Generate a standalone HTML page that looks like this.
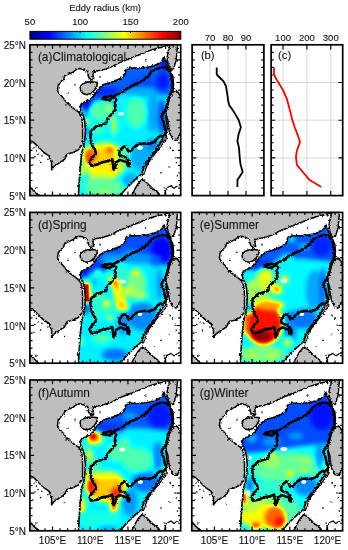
<!DOCTYPE html><html><head><meta charset="utf-8"><style>html,body{margin:0;padding:0;background:#fff;}svg{display:block;}text{font-family:"Liberation Sans",Arial,sans-serif;fill:#111;stroke:#111;stroke-width:0.1px;}</style></head><body>
<svg width="348" height="550" viewBox="0 0 348 550">
<defs>
<filter id="jet" x="-0.1" y="-0.1" width="1.2" height="1.2" color-interpolation-filters="sRGB"><feGaussianBlur stdDeviation="2.0"/><feComponentTransfer><feFuncR type="table" tableValues="0 0 0 0 0.5 1 1 1 0.5"/><feFuncG type="table" tableValues="0 0 0.5 1 1 1 0.5 0 0"/><feFuncB type="table" tableValues="0.5 1 1 1 0.5 0 0 0 0"/></feComponentTransfer></filter>
<linearGradient id="cbar" x1="0" y1="0" x2="1" y2="0"><stop offset="0" stop-color="rgb(0,0,128)"/><stop offset="0.125" stop-color="rgb(0,0,255)"/><stop offset="0.25" stop-color="rgb(0,128,255)"/><stop offset="0.375" stop-color="rgb(0,255,255)"/><stop offset="0.5" stop-color="rgb(128,255,128)"/><stop offset="0.625" stop-color="rgb(255,255,0)"/><stop offset="0.75" stop-color="rgb(255,128,0)"/><stop offset="0.875" stop-color="rgb(255,0,0)"/><stop offset="1" stop-color="rgb(128,0,0)"/></linearGradient>
<filter id="rough" filterUnits="userSpaceOnUse" x="-5" y="-5" width="161" height="161"><feTurbulence type="fractalNoise" baseFrequency="0.55" numOctaves="2" seed="3" result="t"/><feDisplacementMap in="SourceGraphic" in2="t" scale="3" xChannelSelector="R" yChannelSelector="G"/></filter>
<filter id="soft" x="-0.5" y="-0.5" width="2" height="2"><feGaussianBlur stdDeviation="0.7"/></filter>
<clipPath id="frm"><rect x="0" y="0" width="150.8" height="150.8"/></clipPath>
<clipPath id="msk"><polygon points="50,62 51.8,58.5 56.9,56.4 60.1,54.8 63.8,51.2 65.6,47.8 69.9,42.6 73.8,39.8 83,37 89.9,34 94.5,30.5 96.1,25 100.9,23.3 109,23.3 117,22.5 121.8,21.7 128.3,19.3 132.3,16.1 133.9,12.1 135.5,16.5 139.5,25 142.8,31.4 143.6,39.4 142.8,47.5 139.5,52.3 137.1,60.4 135.5,68 136.5,75 137.5,83 136.2,88.5 134.7,89.3 130.7,97.4 126.7,105.4 120.2,113.5 113.8,123.1 111.4,129.6 105.8,134.4 99.3,140.8 96.1,144 90,150.8 48.5,150.8 50.1,125 51.8,107.7 54,101 55,93 55.5,85 54.6,75.5 53.4,70.9 51.1,66.3"/></clipPath>
<g id="base">
<rect x="0" y="0" width="150.8" height="150.8" fill="#fff"/>
</g>
<g id="over" filter="url(#rough)">
<polygon points="-6,-6 139.5,-6 139.5,0 136.3,1.6 128.3,3.2 120.2,5.6 112.2,8.9 104.1,12.1 96.1,15.3 87.5,18.8 82.8,21.6 78.3,23.3 71.3,25.4 65.5,26.3 62.7,27.9 63.2,30.7 63.8,34.2 61,35.3 59.2,33 58.1,30.7 58.6,28.4 57.5,26.7 56,26 53.4,24.7 49.9,23.8 47.3,24.2 43,27.3 38.7,29.4 35,30.6 33.9,34.1 30.4,37.5 28.1,41 27.6,45.6 29.3,49 32.7,52.5 36.2,57.1 39.6,60.5 44.2,64 48.8,67.4 51.1,70.9 52.3,75.5 52.7,83.5 52.7,93.9 51.8,100.8 48.4,105.1 43.2,107.7 37.2,109.4 34.6,114.6 29.4,118 24.2,121.5 21.7,124.9 21.7,118 19.1,111.1 13.9,107.7 10.4,104.2 7,100.8 3.5,97.3 0,95.6 -6,95.6" fill="#bebebe" stroke="#000" stroke-width="1.5" stroke-linejoin="round"/>
<polygon points="-6,140 0,142.2 7.2,149.4 8.6,150.8 8.6,156.8 -6,156.8" fill="#bebebe" stroke="#000" stroke-width="1.5" stroke-linejoin="round"/>
<polygon points="50.2,42 52.9,39 58,37.3 62,37 67.5,37.8 67,41 64.5,45.5 61,48.5 57,50 53.4,49 50.6,45.7" fill="#bebebe" stroke="#000" stroke-width="1.5" stroke-linejoin="round"/>
<polygon points="140.2,-6 147.8,-6 147.8,0 147.2,4.6 146.3,15.5 143.6,23.7 140.8,24.6 138.1,19.1 137.2,11.8 139,4.6 140,0" fill="#bebebe" stroke="#000" stroke-width="1.5" stroke-linejoin="round"/>
<polygon points="142.8,47.5 146,45.5 148.5,48 150.8,52 157,52 157,88 150.8,88 149,92 146,95.8 142.8,94.2 139.5,87.7 137.9,74.9 135.5,68 136.3,66.8 137.9,60.4 139.5,53.9" fill="#bebebe" stroke="#000" stroke-width="1.5" stroke-linejoin="round"/>
<polygon points="101.8,156.8 101.8,150.8 104.6,145.1 108,139 112,134.6 116,137 122.5,143.6 128.5,148.1 130,150.8 130,156.8" fill="#bebebe" stroke="#000" stroke-width="1.5" stroke-linejoin="round"/>
<polygon points="136.3,91.6 137.6,93.2 126.5,107 118,118.5 113.6,130.5 111.8,129.6 115.5,118 124.8,106" fill="#bebebe" stroke="#000" stroke-width="1.2" stroke-linejoin="round"/>
<polyline points="134.5,150.8 135.5,146 138,142.5 141,141 144,143.5 147,141.5 150.8,139.5" fill="none" stroke="#000" stroke-width="1.2" stroke-linejoin="round"/>
<polygon points="50,62 51.8,58.5 56.9,56.4 60.1,54.8 63.8,51.2 65.6,47.8 69.9,42.6 73.8,39.8 83,37 89.9,34 94.5,30.5 96.1,25 100.9,23.3 109,23.3 117,22.5 121.8,21.7 128.3,19.3 132.3,16.1 133.9,12.1 135.5,16.5 139.5,25 142.8,31.4 143.6,39.4 142.8,47.5 139.5,52.3 137.1,60.4 135.5,68 136.5,75 137.5,83 136.2,88.5 134.7,89.3 130.7,97.4 126.7,105.4 120.2,113.5 113.8,123.1 111.4,129.6 105.8,134.4 99.3,140.8 96.1,144 90,150.8 48.5,150.8 50.1,125 51.8,107.7 54,101 55,93 55.5,85 54.6,75.5 53.4,70.9 51.1,66.3" fill="none" stroke="#000" stroke-width="1.6" stroke-linejoin="round"/>
<rect x="3.4" y="102.3" width="1.3" height="1.4" fill="#000"/>
<rect x="5.9" y="105.3" width="1.3" height="1.4" fill="#000"/>
<rect x="7.4" y="108.8" width="1.3" height="1.4" fill="#000"/>
<rect x="4.4" y="111.3" width="1.3" height="1.4" fill="#000"/>
<rect x="10.0" y="116.9" width="1.3" height="1.4" fill="#000"/>
<rect x="11.4" y="110.3" width="1.3" height="1.4" fill="#000"/>
<rect x="17.4" y="113.9" width="1.3" height="1.4" fill="#000"/>
<rect x="33.9" y="122.2" width="1.3" height="1.4" fill="#000"/>
<rect x="5.4" y="142.3" width="1.3" height="1.4" fill="#000"/>
<rect x="2.4" y="119.3" width="1.3" height="1.4" fill="#000"/>
<rect x="139.7" y="102.6" width="1.3" height="1.4" fill="#000"/>
<rect x="142.1" y="105.0" width="1.3" height="1.4" fill="#000"/>
<rect x="144.5" y="112.2" width="1.3" height="1.4" fill="#000"/>
<rect x="145.7" y="117.1" width="1.3" height="1.4" fill="#000"/>
<rect x="124.0" y="134.0" width="1.3" height="1.4" fill="#000"/>
<rect x="133.6" y="142.4" width="1.3" height="1.4" fill="#000"/>
<rect x="146.9" y="130.3" width="1.3" height="1.4" fill="#000"/>
<rect x="138.4" y="121.3" width="1.3" height="1.4" fill="#000"/>
<rect x="130.4" y="127.3" width="1.3" height="1.4" fill="#000"/>
<rect x="37.4" y="47.3" width="1.3" height="1.4" fill="#000"/>
<rect x="35.4" y="59.3" width="1.3" height="1.4" fill="#000"/>
<rect x="44.4" y="39.3" width="1.3" height="1.4" fill="#000"/>
<rect x="69.4" y="31.3" width="1.3" height="1.4" fill="#000"/>
<rect x="99.4" y="21.3" width="1.3" height="1.4" fill="#000"/>
<rect x="115.4" y="15.3" width="1.3" height="1.4" fill="#000"/>
<polyline points="71,53.5 75,53 79.5,51.3 83,51.9 87.6,49.6 92.2,47.3 96.1,44.3 101.9,41.2 104.1,40.2 112.2,36.2 118.6,31.4 121,27.4 125.1,25 131.5,22.5 136.3,23.3 140.4,27.4 142,33 142.8,41 142,45.9 139.5,50.7 137.9,57.1 136.3,63.6 133.9,66.8 131.6,71.8 133.8,77.6 135.2,84.7 135.9,89.8 133.8,90.5 130.2,91.2 127.3,93.4 125.9,96.2 123,97.7 118.7,99.1 114.4,98.4 111.5,99.1 108.6,99.1 106,101 104,102.7 101.4,105.6 98.5,107 97.1,104.1 95.7,102 92.8,102.7 89.9,105.6 89.2,109.9 91.4,111.3 95.7,112.8 98.5,115.6 100,120 99.4,121.8 98,121 97.6,117.6 94.2,116.4 90.3,115.2 86.3,117.4 85.3,122.4 83.6,124.6 83,119.4 82.3,114.6 78.3,116.2 72.2,117.4 66.5,119.8 61.2,120.8 59.4,117.4 62.2,112.8 66.2,108.8 65.2,105.3 62.6,101.3 61.2,97 60.5,91.2 61,86 65.9,81.9 71,80.1 76.2,78.4 77.9,73.2 81.4,69.8 85.7,64.6 84.8,61.2 85.9,60.5 84.7,58.2 86.4,54.7 84.1,53.6 78.4,55.3 75,54.7 71,53.5" fill="none" stroke="#000" stroke-width="2.6" stroke-linejoin="round"/>
</g>
<path id="mticks" d="M7.54 0v2.6M7.54 150.8v-2.6M15.08 0v2.6M15.08 150.8v-2.6M22.62 0v4.2M22.62 150.8v-4.2M30.16 0v2.6M30.16 150.8v-2.6M37.70 0v2.6M37.70 150.8v-2.6M45.24 0v2.6M45.24 150.8v-2.6M52.78 0v2.6M52.78 150.8v-2.6M60.32 0v4.2M60.32 150.8v-4.2M67.86 0v2.6M67.86 150.8v-2.6M75.40 0v2.6M75.40 150.8v-2.6M82.94 0v2.6M82.94 150.8v-2.6M90.48 0v2.6M90.48 150.8v-2.6M98.02 0v4.2M98.02 150.8v-4.2M105.56 0v2.6M105.56 150.8v-2.6M113.10 0v2.6M113.10 150.8v-2.6M120.64 0v2.6M120.64 150.8v-2.6M128.18 0v2.6M128.18 150.8v-2.6M135.72 0v4.2M135.72 150.8v-4.2M143.26 0v2.6M143.26 150.8v-2.6M0 143.26h2.6M150.8 143.26h-2.6M0 135.72h2.6M150.8 135.72h-2.6M0 128.18h2.6M150.8 128.18h-2.6M0 120.64h2.6M150.8 120.64h-2.6M0 113.10h4.2M150.8 113.10h-4.2M0 105.56h2.6M150.8 105.56h-2.6M0 98.02h2.6M150.8 98.02h-2.6M0 90.48h2.6M150.8 90.48h-2.6M0 82.94h2.6M150.8 82.94h-2.6M0 75.40h4.2M150.8 75.40h-4.2M0 67.86h2.6M150.8 67.86h-2.6M0 60.32h2.6M150.8 60.32h-2.6M0 52.78h2.6M150.8 52.78h-2.6M0 45.24h2.6M150.8 45.24h-2.6M0 37.70h4.2M150.8 37.70h-4.2M0 30.16h2.6M150.8 30.16h-2.6M0 22.62h2.6M150.8 22.62h-2.6M0 15.08h2.6M150.8 15.08h-2.6M0 7.54h2.6M150.8 7.54h-2.6" stroke="#000" stroke-width="1.2" fill="none"/>
</defs>
<text x="105.1" y="11.4" font-size="9.5" text-anchor="middle">Eddy radius (km)</text>
<text x="29.9" y="24.8" font-size="9.5" text-anchor="middle">50</text>
<text x="80.2" y="24.8" font-size="9.5" text-anchor="middle">100</text>
<text x="130.5" y="24.8" font-size="9.5" text-anchor="middle">150</text>
<text x="180.8" y="24.8" font-size="9.5" text-anchor="middle">200</text>
<rect x="29.9" y="31.4" width="150.9" height="7.8" fill="url(#cbar)" stroke="#000" stroke-width="1"/>
<path d="M80.2 31.4v1.6M130.5 31.4v1.6" stroke="#000" stroke-width="1.1"/>
<g transform="translate(29.9,44.8)">
<g clip-path="url(#frm)">
<use href="#base"/>
<g clip-path="url(#msk)"><g filter="url(#jet)">
<rect x="-10" y="-10" width="170.8" height="170.8" fill="rgb(92,92,92)"/>
<polygon points="40,0 150,0 150,52 128,50 118,48 100,46 90,50 70,56 40,64" fill="rgb(56,56,56)"/>
<ellipse cx="115" cy="40" rx="16" ry="8" fill="rgb(51,51,51)"/>
<ellipse cx="76" cy="47" rx="20" ry="4" fill="rgb(41,41,41)"/>
<ellipse cx="58" cy="61" rx="6" ry="6" fill="rgb(33,33,33)"/>
<ellipse cx="133" cy="36" rx="6" ry="9" fill="rgb(38,38,38)"/>
<ellipse cx="134" cy="18" rx="4" ry="7" fill="rgb(36,36,36)"/>
<ellipse cx="132" cy="72" rx="4" ry="18" fill="rgb(51,51,51)"/>
<ellipse cx="123" cy="68" rx="6" ry="20" fill="rgb(74,74,74)"/>
<ellipse cx="112" cy="47" rx="16" ry="5" fill="rgb(76,76,76)"/>
<ellipse cx="71" cy="66" rx="12" ry="10" fill="rgb(117,117,117)"/>
<ellipse cx="106" cy="68" rx="11" ry="15" fill="rgb(115,115,115)"/>
<ellipse cx="84" cy="80" rx="3" ry="11" fill="rgb(140,140,140)"/>
<ellipse cx="80" cy="63" rx="2" ry="2" fill="rgb(184,184,184)"/>
<ellipse cx="92" cy="66" rx="5" ry="20" fill="rgb(94,94,94)"/>
<ellipse cx="56" cy="80" rx="3" ry="12" fill="rgb(64,64,64)"/>
<ellipse cx="57" cy="77" rx="1.5" ry="3.5" fill="rgb(217,217,217)"/>
<ellipse cx="68" cy="84" rx="8" ry="6" fill="rgb(110,110,110)"/>
<ellipse cx="75" cy="116" rx="22" ry="19" fill="rgb(148,148,148)"/>
<ellipse cx="74" cy="110" rx="12" ry="8" fill="rgb(171,171,171)"/>
<ellipse cx="60" cy="111" rx="7" ry="9" fill="rgb(196,196,196)"/>
<ellipse cx="60" cy="114" rx="3" ry="4" fill="rgb(212,212,212)"/>
<ellipse cx="80" cy="105" rx="3.5" ry="3.5" fill="rgb(204,204,204)"/>
<ellipse cx="83" cy="118" rx="2.5" ry="5" fill="rgb(186,186,186)"/>
<ellipse cx="74" cy="126" rx="13" ry="9" fill="rgb(163,163,163)"/>
<ellipse cx="70" cy="133" rx="12" ry="4" fill="rgb(140,140,140)"/>
<ellipse cx="53" cy="126" rx="4" ry="6" fill="rgb(140,140,140)"/>
<ellipse cx="94" cy="110" rx="6" ry="9" fill="rgb(115,115,115)"/>
<ellipse cx="72" cy="143" rx="26" ry="9" fill="rgb(120,120,120)"/>
<ellipse cx="53" cy="145" rx="4" ry="6" fill="rgb(97,97,97)"/>
<ellipse cx="76" cy="147" rx="5" ry="2" fill="rgb(140,140,140)"/>
<ellipse cx="112" cy="112" rx="12" ry="14" fill="rgb(76,76,76)"/>
<ellipse cx="122" cy="100" rx="6" ry="6" fill="rgb(64,64,64)"/>
<ellipse cx="100" cy="136" rx="8" ry="8" fill="rgb(76,76,76)"/>
</g>
<ellipse cx="91" cy="69" rx="3" ry="1.8" fill="#fff"/>
<ellipse cx="110" cy="103" rx="3" ry="2" fill="#fff"/>
</g>
<use href="#over"/>
</g>
<use href="#mticks"/>
<rect x="0" y="0" width="150.8" height="150.8" fill="none" stroke="#000" stroke-width="1.7"/>
<text x="8" y="16.5" font-size="11.85">(a)Climatological</text>
</g>
<text x="26" y="48.80" font-size="10" text-anchor="end">25°N</text>
<text x="26" y="86.50" font-size="10" text-anchor="end">20°N</text>
<text x="26" y="124.20" font-size="10" text-anchor="end">15°N</text>
<text x="26" y="161.90" font-size="10" text-anchor="end">10°N</text>
<text x="26" y="199.60" font-size="10" text-anchor="end">5°N</text>
<g transform="translate(29.9,212.4)">
<g clip-path="url(#frm)">
<use href="#base"/>
<g clip-path="url(#msk)"><g filter="url(#jet)">
<rect x="-10" y="-10" width="170.8" height="170.8" fill="rgb(92,92,92)"/>
<polygon points="40,0 150,0 150,54 128,52 110,50 96,50 84,48 70,50 40,58" fill="rgb(51,51,51)"/>
<ellipse cx="131" cy="38" rx="10" ry="13" fill="rgb(31,31,31)"/>
<ellipse cx="100" cy="40" rx="8" ry="4" fill="rgb(66,66,66)"/>
<ellipse cx="64" cy="55" rx="14" ry="6" fill="rgb(46,46,46)"/>
<ellipse cx="54" cy="61" rx="4" ry="4" fill="rgb(31,31,31)"/>
<ellipse cx="84" cy="45" rx="14" ry="4" fill="rgb(71,71,71)"/>
<ellipse cx="68" cy="60" rx="4" ry="3" fill="rgb(120,120,120)"/>
<ellipse cx="80" cy="66" rx="5" ry="5" fill="rgb(117,117,117)"/>
<ellipse cx="63" cy="70" rx="3" ry="3" fill="rgb(69,69,69)"/>
<polygon points="52.5,70 60,70 60.5,90 53,90" fill="rgb(204,204,204)"/>
<polygon points="80.5,66 89.5,66 99,97 87.5,99" fill="rgb(173,173,173)"/>
<ellipse cx="84.5" cy="71" rx="2.5" ry="3" fill="rgb(204,204,204)"/>
<ellipse cx="92" cy="58" rx="6" ry="9" fill="rgb(105,105,105)"/>
<ellipse cx="68" cy="84" rx="8" ry="5" fill="rgb(112,112,112)"/>
<ellipse cx="93" cy="82" rx="5" ry="7" fill="rgb(145,145,145)"/>
<ellipse cx="112" cy="46" rx="18" ry="5" fill="rgb(69,69,69)"/>
<ellipse cx="126" cy="48" rx="6" ry="6" fill="rgb(56,56,56)"/>
<ellipse cx="106" cy="72" rx="10" ry="16" fill="rgb(125,125,125)"/>
<ellipse cx="106" cy="60" rx="3" ry="3" fill="rgb(168,168,168)"/>
<ellipse cx="100" cy="78" rx="5" ry="5" fill="rgb(145,145,145)"/>
<ellipse cx="112" cy="83" rx="6" ry="3" fill="rgb(145,145,145)"/>
<ellipse cx="124" cy="72" rx="6" ry="16" fill="rgb(89,89,89)"/>
<ellipse cx="130" cy="72" rx="2.5" ry="16" fill="rgb(66,66,66)"/>
<ellipse cx="56.5" cy="96" rx="2.5" ry="6" fill="rgb(46,46,46)"/>
<ellipse cx="72" cy="98" rx="12" ry="9" fill="rgb(105,105,105)"/>
<ellipse cx="77" cy="91" rx="4" ry="4" fill="rgb(153,153,153)"/>
<ellipse cx="81" cy="105.6" rx="2" ry="2" fill="rgb(194,194,194)"/>
<ellipse cx="93" cy="111" rx="5" ry="12" fill="rgb(69,69,69)"/>
<ellipse cx="72" cy="126" rx="10" ry="5" fill="rgb(115,115,115)"/>
<ellipse cx="50.3" cy="129.3" rx="2" ry="3" fill="rgb(168,168,168)"/>
<ellipse cx="112" cy="104" rx="15" ry="14" fill="rgb(66,66,66)"/>
<ellipse cx="85" cy="142" rx="13" ry="6" fill="rgb(61,61,61)"/>
</g>
<polygon points="54.5,72 58.5,72 59,89 55,89" fill="rgb(205,0,0)" filter="url(#soft)"/>
<ellipse cx="92.6" cy="69" rx="3" ry="1.8" fill="#fff"/>
<ellipse cx="110" cy="101.5" rx="2.5" ry="2" fill="#fff"/>
</g>
<use href="#over"/>
</g>
<use href="#mticks"/>
<rect x="0" y="0" width="150.8" height="150.8" fill="none" stroke="#000" stroke-width="1.7"/>
<text x="8" y="16.5" font-size="11.85">(d)Spring</text>
</g>
<text x="26" y="216.40" font-size="10" text-anchor="end">25°N</text>
<text x="26" y="254.10" font-size="10" text-anchor="end">20°N</text>
<text x="26" y="291.80" font-size="10" text-anchor="end">15°N</text>
<text x="26" y="329.50" font-size="10" text-anchor="end">10°N</text>
<text x="26" y="367.20" font-size="10" text-anchor="end">5°N</text>
<g transform="translate(191.8,212.4)">
<g clip-path="url(#frm)">
<use href="#base"/>
<g clip-path="url(#msk)"><g filter="url(#jet)">
<rect x="-10" y="-10" width="170.8" height="170.8" fill="rgb(94,94,94)"/>
<polygon points="40,0 150,0 150,50 128,48 110,46 96,46 84,48 70,54 40,60" fill="rgb(54,54,54)"/>
<ellipse cx="130" cy="34" rx="10" ry="10" fill="rgb(41,41,41)"/>
<ellipse cx="112" cy="34" rx="6" ry="4" fill="rgb(76,76,76)"/>
<ellipse cx="100" cy="27" rx="3" ry="3" fill="rgb(102,102,102)"/>
<ellipse cx="66" cy="52" rx="15" ry="6" fill="rgb(46,46,46)"/>
<ellipse cx="73" cy="68" rx="9" ry="13" fill="rgb(148,148,148)"/>
<ellipse cx="75" cy="63" rx="1.5" ry="1.5" fill="rgb(217,217,217)"/>
<ellipse cx="95" cy="55" rx="10" ry="14" fill="rgb(94,94,94)"/>
<ellipse cx="85" cy="77" rx="5" ry="5" fill="rgb(184,184,184)"/>
<ellipse cx="68" cy="88" rx="12" ry="8" fill="rgb(138,138,138)"/>
<ellipse cx="60" cy="80" rx="5" ry="14" fill="rgb(140,140,140)"/>
<ellipse cx="93" cy="67" rx="4" ry="4" fill="rgb(158,158,158)"/>
<ellipse cx="72" cy="112" rx="19" ry="20" fill="rgb(219,219,219)"/>
<ellipse cx="70" cy="124" rx="10" ry="6" fill="rgb(252,252,252)"/>
<ellipse cx="78" cy="93" rx="14" ry="5" fill="rgb(184,184,184)"/>
<ellipse cx="53" cy="110" rx="3" ry="12" fill="rgb(184,184,184)"/>
<ellipse cx="58" cy="96" rx="2" ry="5" fill="rgb(51,51,51)"/>
<ellipse cx="98" cy="116" rx="7" ry="18" fill="rgb(69,69,69)"/>
<ellipse cx="98" cy="129" rx="2" ry="2" fill="rgb(158,158,158)"/>
<ellipse cx="70" cy="142" rx="24" ry="9" fill="rgb(128,128,128)"/>
<ellipse cx="96" cy="130" rx="5" ry="5" fill="rgb(140,140,140)"/>
<ellipse cx="60" cy="142" rx="3" ry="2" fill="rgb(153,153,153)"/>
<ellipse cx="80" cy="144" rx="3" ry="2" fill="rgb(153,153,153)"/>
<ellipse cx="123" cy="78" rx="9" ry="20" fill="rgb(74,74,74)"/>
<ellipse cx="131" cy="75" rx="3" ry="20" fill="rgb(56,56,56)"/>
<ellipse cx="112" cy="106" rx="13" ry="10" fill="rgb(61,61,61)"/>
</g>
<ellipse cx="92" cy="68.5" rx="3" ry="1.8" fill="#fff"/>
<ellipse cx="110" cy="101.5" rx="2.5" ry="2" fill="#fff"/>
</g>
<use href="#over"/>
</g>
<use href="#mticks"/>
<rect x="0" y="0" width="150.8" height="150.8" fill="none" stroke="#000" stroke-width="1.7"/>
<text x="8" y="16.5" font-size="11.85">(e)Summer</text>
</g>
<g transform="translate(29.9,380.0)">
<g clip-path="url(#frm)">
<use href="#base"/>
<g clip-path="url(#msk)"><g filter="url(#jet)">
<rect x="-10" y="-10" width="170.8" height="170.8" fill="rgb(92,92,92)"/>
<polygon points="40,0 150,0 150,52 128,50 110,48 96,48 84,50 70,54 40,60" fill="rgb(54,54,54)"/>
<ellipse cx="130" cy="36" rx="12" ry="12" fill="rgb(38,38,38)"/>
<ellipse cx="100" cy="36" rx="8" ry="4" fill="rgb(71,71,71)"/>
<ellipse cx="78" cy="48" rx="18" ry="5" fill="rgb(46,46,46)"/>
<ellipse cx="65" cy="58" rx="8" ry="7" fill="rgb(168,168,168)"/>
<ellipse cx="63" cy="56" rx="4" ry="4" fill="rgb(242,242,242)"/>
<ellipse cx="56" cy="70" rx="3" ry="10" fill="rgb(115,115,115)"/>
<ellipse cx="60" cy="76" rx="2.5" ry="7" fill="rgb(163,163,163)"/>
<ellipse cx="58" cy="95" rx="2.5" ry="3" fill="rgb(217,217,217)"/>
<ellipse cx="96" cy="62" rx="2" ry="4" fill="rgb(143,143,143)"/>
<ellipse cx="90" cy="72" rx="14" ry="10" fill="rgb(115,115,115)"/>
<ellipse cx="108" cy="80" rx="16" ry="12" fill="rgb(115,115,115)"/>
<ellipse cx="64" cy="86" rx="6" ry="8" fill="rgb(115,115,115)"/>
<ellipse cx="77" cy="108" rx="21" ry="14" fill="rgb(173,173,173)"/>
<ellipse cx="76" cy="95" rx="14" ry="4" fill="rgb(153,153,153)"/>
<ellipse cx="61" cy="106" rx="5" ry="8" fill="rgb(219,219,219)"/>
<ellipse cx="87" cy="113" rx="6" ry="6" fill="rgb(214,214,214)"/>
<ellipse cx="84" cy="125" rx="4" ry="7" fill="rgb(204,204,204)"/>
<ellipse cx="52" cy="125" rx="4" ry="8" fill="rgb(158,158,158)"/>
<ellipse cx="50" cy="129" rx="2" ry="3" fill="rgb(217,217,217)"/>
<ellipse cx="70" cy="140" rx="20" ry="8" fill="rgb(102,102,102)"/>
<ellipse cx="78" cy="148" rx="10" ry="3" fill="rgb(76,76,76)"/>
<ellipse cx="100" cy="122" rx="8" ry="14" fill="rgb(71,71,71)"/>
<ellipse cx="116" cy="102" rx="14" ry="10" fill="rgb(61,61,61)"/>
<ellipse cx="128" cy="76" rx="5" ry="14" fill="rgb(66,66,66)"/>
</g>
<ellipse cx="92.3" cy="69.5" rx="3" ry="2" fill="#fff"/>
<ellipse cx="110.5" cy="102" rx="2.5" ry="2" fill="#fff"/>
</g>
<use href="#over"/>
</g>
<use href="#mticks"/>
<rect x="0" y="0" width="150.8" height="150.8" fill="none" stroke="#000" stroke-width="1.7"/>
<text x="8" y="16.5" font-size="11.85">(f)Autumn</text>
</g>
<text x="26" y="384.00" font-size="10" text-anchor="end">25°N</text>
<text x="26" y="421.70" font-size="10" text-anchor="end">20°N</text>
<text x="26" y="459.40" font-size="10" text-anchor="end">15°N</text>
<text x="26" y="497.10" font-size="10" text-anchor="end">10°N</text>
<text x="26" y="534.80" font-size="10" text-anchor="end">5°N</text>
<text x="52.52" y="544" font-size="10" text-anchor="middle">105°E</text>
<text x="90.22" y="544" font-size="10" text-anchor="middle">110°E</text>
<text x="127.92" y="544" font-size="10" text-anchor="middle">115°E</text>
<text x="165.62" y="544" font-size="10" text-anchor="middle">120°E</text>
<g transform="translate(191.8,380.0)">
<g clip-path="url(#frm)">
<use href="#base"/>
<g clip-path="url(#msk)"><g filter="url(#jet)">
<rect x="-10" y="-10" width="170.8" height="170.8" fill="rgb(97,97,97)"/>
<polygon points="40,0 150,0 150,64 128,64 110,66 96,68 84,70 70,72 40,74" fill="rgb(51,51,51)"/>
<ellipse cx="130" cy="36" rx="12" ry="14" fill="rgb(36,36,36)"/>
<ellipse cx="80" cy="62" rx="10" ry="5" fill="rgb(69,69,69)"/>
<ellipse cx="104" cy="56" rx="8" ry="4" fill="rgb(69,69,69)"/>
<ellipse cx="60" cy="58" rx="5" ry="5" fill="rgb(76,76,76)"/>
<ellipse cx="95" cy="88" rx="34" ry="16" fill="rgb(120,120,120)"/>
<ellipse cx="80" cy="82" rx="10" ry="6" fill="rgb(133,133,133)"/>
<ellipse cx="112" cy="80" rx="10" ry="6" fill="rgb(128,128,128)"/>
<ellipse cx="82" cy="74" rx="2.5" ry="2.5" fill="rgb(168,168,168)"/>
<ellipse cx="98" cy="93" rx="2.5" ry="2.5" fill="rgb(184,184,184)"/>
<ellipse cx="112" cy="90" rx="2" ry="2" fill="rgb(163,163,163)"/>
<ellipse cx="132" cy="85" rx="2" ry="2" fill="rgb(224,224,224)"/>
<ellipse cx="58" cy="105" rx="3" ry="7" fill="rgb(56,56,56)"/>
<ellipse cx="80" cy="108" rx="16" ry="8" fill="rgb(107,107,107)"/>
<ellipse cx="74" cy="122" rx="20" ry="5" fill="rgb(133,133,133)"/>
<ellipse cx="70" cy="136" rx="22" ry="12" fill="rgb(161,161,161)"/>
<ellipse cx="60" cy="128" rx="8" ry="5" fill="rgb(143,143,143)"/>
<ellipse cx="84" cy="138" rx="11" ry="12" fill="rgb(199,199,199)"/>
<ellipse cx="88" cy="142" rx="5" ry="5" fill="rgb(222,222,222)"/>
<ellipse cx="64" cy="146" rx="4" ry="3" fill="rgb(224,224,224)"/>
<ellipse cx="52" cy="118" rx="3" ry="7" fill="rgb(230,230,230)"/>
<ellipse cx="100" cy="130" rx="8" ry="10" fill="rgb(117,117,117)"/>
<ellipse cx="114" cy="106" rx="12" ry="10" fill="rgb(66,66,66)"/>
<ellipse cx="128" cy="76" rx="5" ry="14" fill="rgb(71,71,71)"/>
</g>
<ellipse cx="92" cy="69" rx="3.5" ry="2" fill="#fff"/>
<ellipse cx="57.7" cy="77.8" rx="2.5" ry="2" fill="#fff"/>
<ellipse cx="112" cy="102" rx="2.5" ry="2" fill="#fff"/>
<ellipse cx="56.5" cy="113" rx="2" ry="3" fill="#fff"/>
</g>
<use href="#over"/>
</g>
<use href="#mticks"/>
<rect x="0" y="0" width="150.8" height="150.8" fill="none" stroke="#000" stroke-width="1.7"/>
<text x="8" y="16.5" font-size="11.85">(g)Winter</text>
</g>
<text x="214.42" y="544" font-size="10" text-anchor="middle">105°E</text>
<text x="252.12" y="544" font-size="10" text-anchor="middle">110°E</text>
<text x="289.82" y="544" font-size="10" text-anchor="middle">115°E</text>
<text x="327.52" y="544" font-size="10" text-anchor="middle">120°E</text>
<g>
<path d="M210.05 44.8V195.6M228.00 44.8V195.6M245.95 44.8V195.6M192.1 82.50H263.9M192.1 120.20H263.9M192.1 157.90H263.9" stroke="#d9d9d9" stroke-width="1" fill="none"/>
<path d="M210.05 44.8v4.6M210.05 195.6v-4.6M228.00 44.8v4.6M228.00 195.6v-4.6M245.95 44.8v4.6M245.95 195.6v-4.6M192.1 188.06h2.6M263.9 188.06h-2.6M192.1 180.52h2.6M263.9 180.52h-2.6M192.1 172.98h2.6M263.9 172.98h-2.6M192.1 165.44h2.6M263.9 165.44h-2.6M192.1 157.90h4.2M263.9 157.90h-4.2M192.1 150.36h2.6M263.9 150.36h-2.6M192.1 142.82h2.6M263.9 142.82h-2.6M192.1 135.28h2.6M263.9 135.28h-2.6M192.1 127.74h2.6M263.9 127.74h-2.6M192.1 120.20h4.2M263.9 120.20h-4.2M192.1 112.66h2.6M263.9 112.66h-2.6M192.1 105.12h2.6M263.9 105.12h-2.6M192.1 97.58h2.6M263.9 97.58h-2.6M192.1 90.04h2.6M263.9 90.04h-2.6M192.1 82.50h4.2M263.9 82.50h-4.2M192.1 74.96h2.6M263.9 74.96h-2.6M192.1 67.42h2.6M263.9 67.42h-2.6M192.1 59.88h2.6M263.9 59.88h-2.6M192.1 52.34h2.6M263.9 52.34h-2.6" stroke="#000" stroke-width="1.1" fill="none"/>
<polyline points="216.7,67.6 216.7,74.5 220.2,78 223.6,81.4 225.9,86 227.1,92.9 228.2,100.9 229.4,105.5 232.8,110.1 236.3,115.9 238.6,120 240.9,127.2 238.6,134.1 237.4,141 239,147.9 239.7,157.1 240.4,164 242.7,172 239.7,176.6 237.4,180.1 237.4,187" fill="none" stroke="#000" stroke-width="1.8" stroke-linejoin="round"/>
<rect x="192.1" y="44.8" width="71.79999999999998" height="150.8" fill="none" stroke="#000" stroke-width="1.7"/>
<text x="210.05" y="40.8" font-size="9.5" text-anchor="middle">70</text>
<text x="228.00" y="40.8" font-size="9.5" text-anchor="middle">80</text>
<text x="245.95" y="40.8" font-size="9.5" text-anchor="middle">90</text>
<text x="200.9" y="59.099999999999994" font-size="11.2">(b)</text>
</g>
<g>
<path d="M283.03 44.8V195.6M306.90 44.8V195.6M330.77 44.8V195.6M271.1 82.50H342.7M271.1 120.20H342.7M271.1 157.90H342.7" stroke="#d9d9d9" stroke-width="1" fill="none"/>
<path d="M283.03 44.8v4.6M283.03 195.6v-4.6M306.90 44.8v4.6M306.90 195.6v-4.6M330.77 44.8v4.6M330.77 195.6v-4.6M271.1 188.06h2.6M271.1 180.52h2.6M271.1 172.98h2.6M271.1 165.44h2.6M271.1 157.90h4.2M342.7 157.90h-4.2M271.1 150.36h2.6M271.1 142.82h2.6M271.1 135.28h2.6M271.1 127.74h2.6M271.1 120.20h4.2M342.7 120.20h-4.2M271.1 112.66h2.6M271.1 105.12h2.6M271.1 97.58h2.6M271.1 90.04h2.6M271.1 82.50h4.2M342.7 82.50h-4.2M271.1 74.96h2.6M271.1 67.42h2.6M271.1 59.88h2.6M271.1 52.34h2.6" stroke="#000" stroke-width="1.1" fill="none"/>
<polyline points="274,67.6 274,74.5 276.3,79 279.8,84.8 283.2,90.6 286.7,98.6 289,106.7 291.3,115.9 291.7,118 294.7,127.2 298.2,136.4 300,142.1 297,150.2 295.9,157.1 297,165.1 302.8,172 309.7,180.1 321.2,187" fill="none" stroke="#ff0000" stroke-width="1.8" stroke-linejoin="round"/>
<rect x="271.1" y="44.8" width="71.59999999999997" height="150.8" fill="none" stroke="#000" stroke-width="1.7"/>
<text x="283.03" y="40.8" font-size="9.5" text-anchor="middle">100</text>
<text x="306.90" y="40.8" font-size="9.5" text-anchor="middle">200</text>
<text x="330.77" y="40.8" font-size="9.5" text-anchor="middle">300</text>
<text x="278.1" y="59.099999999999994" font-size="11.2">(c)</text>
</g>
</svg></body></html>
